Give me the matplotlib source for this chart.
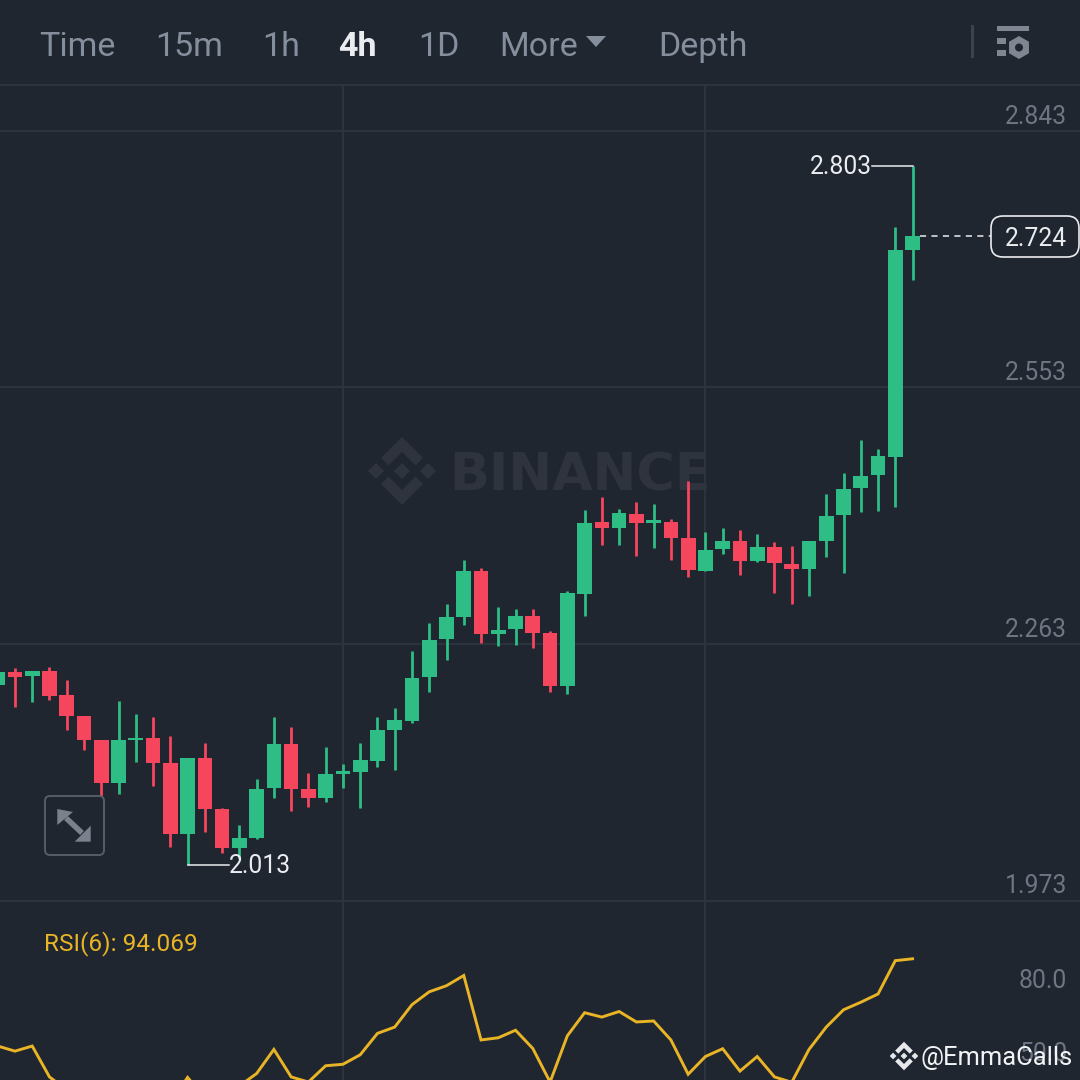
import numpy as np
import matplotlib
matplotlib.use('Agg')
import matplotlib.pyplot as plt
from matplotlib.patches import FancyBboxPatch, Polygon, Rectangle, Circle

# --- candle data ---
opens = [2.217, 2.231, 2.227, 2.232, 2.205, 2.182, 2.155, 2.106, 2.154, 2.157, 2.128, 2.048, 2.134, 2.077,
         2.032, 2.044, 2.100, 2.150, 2.099, 2.089, 2.116, 2.118, 2.131, 2.166, 2.176, 2.226, 2.269, 2.293,
         2.346, 2.274, 2.280, 2.295, 2.275, 2.215, 2.320, 2.401, 2.394, 2.410, 2.400, 2.401, 2.383, 2.346,
         2.370, 2.380, 2.357, 2.373, 2.354, 2.348, 2.379, 2.409, 2.439, 2.454, 2.474, 2.709]
highs = [2.233, 2.236, 2.233, 2.237, 2.222, 2.182, 2.155, 2.198, 2.184, 2.180, 2.159, 2.134, 2.151, 2.078,
         2.058, 2.110, 2.181, 2.169, 2.117, 2.146, 2.127, 2.151, 2.180, 2.191, 2.255, 2.287, 2.308, 2.358,
         2.349, 2.305, 2.303, 2.303, 2.278, 2.323, 2.414, 2.429, 2.416, 2.424, 2.421, 2.404, 2.447, 2.390,
         2.394, 2.392, 2.387, 2.378, 2.374, 2.380, 2.433, 2.456, 2.494, 2.484, 2.735, 2.803]
lows = [2.215, 2.192, 2.197, 2.200, 2.166, 2.143, 2.090, 2.093, 2.130, 2.102, 2.033, 2.013, 2.050, 2.027,
        2.021, 2.043, 2.089, 2.074, 2.079, 2.084, 2.100, 2.078, 2.124, 2.121, 2.174, 2.209, 2.245, 2.285,
        2.264, 2.261, 2.262, 2.258, 2.209, 2.206, 2.295, 2.375, 2.375, 2.363, 2.372, 2.358, 2.339, 2.345,
        2.365, 2.341, 2.356, 2.321, 2.308, 2.317, 2.361, 2.343, 2.412, 2.413, 2.418, 2.675]
closes = [2.231, 2.226, 2.232, 2.204, 2.182, 2.155, 2.106, 2.155, 2.157, 2.129, 2.048, 2.134, 2.077, 2.032,
          2.044, 2.099, 2.150, 2.099, 2.089, 2.116, 2.119, 2.132, 2.166, 2.177, 2.225, 2.268, 2.293, 2.345,
          2.274, 2.279, 2.295, 2.275, 2.215, 2.321, 2.400, 2.394, 2.411, 2.400, 2.403, 2.383, 2.347, 2.369,
          2.379, 2.357, 2.373, 2.355, 2.348, 2.379, 2.408, 2.438, 2.453, 2.475, 2.708, 2.724]
rsi = [58.2, 56.1, 58.2, 45.5, 40.1, 36.8, 34.8, 38.9, 38.9, 36.8, 34.8, 45.3, 36.8, 32.7, 41.8, 46.9, 56.8, 45.5,
       43.4, 50.1, 50.7, 54.6, 63.4, 66.0, 75.2, 80.5, 83.0, 87.2, 60.7, 61.6, 64.7, 57.2, 43.4, 62.4, 71.9, 70.1,
       72.4, 68.1, 68.5, 60.7, 46.6, 53.9, 57.1, 47.9, 53.9, 45.5, 43.3, 56.8, 66.0, 73.1, 76.2, 79.6, 93.3, 94.069]

price_ticks = [2.843, 2.553, 2.263, 1.973]
rsi_ticks = [80.0, 50.0]
time_gridlines = [20, 41]
menu_labels = ['Time', '15m', '1h', '4h', '1D', 'More', 'Depth']
menu_x = [39, 155, 262, 338, 418, 499, 658]

BG = '#1F2630'
GRID = '#2E343F'
GREEN = '#2EBD85'
RED = '#F6465D'
YELLOW = '#E9B425'
MUTED = '#6F7683'
MENU = '#848E9C'
WATERMARK = '#2E333E'
FONT = 'Roboto'


def binance_logo(ax, cx, cy, s, color, zorder=1):
    # diamond mark, s=1 is the big watermark size (pixels)
    top = [(0, -34), (21, -13), (13.5, -5.5), (0, -19), (-13.5, -5.5), (-21, -13)]
    for sign in (1, -1):
        ax.add_patch(Polygon([(cx + s * x, cy + sign * s * y) for x, y in top], fc=color, ec='none', zorder=zorder))
    for dx in (-26, 0, 26):
        r = 8
        ax.add_patch(Polygon([(cx + s * (dx - r), cy), (cx + s * dx, cy - s * r), (cx + s * (dx + r), cy),
                              (cx + s * dx, cy + s * r)], fc=color, ec='none', zorder=zorder))


def pixel_axes(fig, zorder):
    # overlay with image pixel coordinates, for the app chrome
    ax = fig.add_axes([0, 0, 1, 1], zorder=zorder)
    ax.set_xlim(0, 1080)
    ax.set_ylim(1080, 0)
    ax.axis('off')
    ax.patch.set_alpha(0)
    return ax


def main():
    fig = plt.figure(figsize=(10.8, 10.8), dpi=100, facecolor=BG)

    # --- 1. Layer under the chart: header and watermark ---
    back = pixel_axes(fig, 0)
    back.plot([0, 1080], [85, 85], color=GRID, lw=1.4)
    for label, x in zip(menu_labels, menu_x):
        active = label == '4h'
        back.text(x, 43.5, label, color='#EAECEF' if active else MENU, fontsize=24.5, family=FONT,
                  weight='bold' if active else 'normal', ha='left', va='center_baseline')
    back.add_patch(Polygon([(586, 36), (606, 36), (596, 47)], fc=MENU, ec='none'))
    back.add_patch(Rectangle((971, 25), 3, 33, fc='#3C424E', ec='none'))
    back.add_patch(Rectangle((997, 25.5), 32, 5.5, fc='#7F8591', ec='none'))
    back.add_patch(Rectangle((997, 38), 9, 5.5, fc='#7F8591', ec='none'))
    back.add_patch(Rectangle((997, 50), 9, 5.5, fc='#7F8591', ec='none'))
    angles = np.radians(np.arange(30, 390, 60))
    back.add_patch(Polygon(np.c_[1019 + 11.5 * np.cos(angles), 47.5 + 11.5 * np.sin(angles)], fc='#7F8591', ec='none'))
    back.add_patch(Circle((1019, 47.5), 4, fc=BG, ec='none'))

    binance_logo(back, 402, 471, 1.0, WATERMARK)
    back.text(449, 471, 'BINANCE', color=WATERMARK, fontsize=37.7, family='DejaVu Sans', weight='bold',
              ha='left', va='center_baseline')

    # --- 2. Price pane ---
    x = np.arange(len(closes))
    x_limits = (0.133, 62.7)
    ax = fig.add_axes([0, 179.5 / 1080, 1, 815.5 / 1080], zorder=1)
    ax.patch.set_alpha(0)
    ax.set_xlim(*x_limits)
    ax.set_ylim(1.973, 2.895)
    ax.axis('off')

    for tick in price_ticks:
        ax.axhline(tick, color=GRID, lw=1.4, zorder=1, clip_on=False)
        ax.text(1067 / 1080, tick + 0.0025, f'{tick:.3f}', color=MUTED, fontsize=17.8, family=FONT,
                transform=ax.get_yaxis_transform(), ha='right', va='bottom')
    for pos in time_gridlines:
        ax.axvline(pos, color=GRID, lw=1.4, zorder=1)

    opens_a, closes_a = np.array(opens), np.array(closes)
    colors = [GREEN if c >= o else RED for o, c in zip(opens, closes)]
    ax.vlines(x, lows, highs, colors=colors, lw=2.0, capstyle='butt', zorder=3)
    ax.bar(x, np.abs(closes_a - opens_a), bottom=np.minimum(opens_a, closes_a), width=0.85, color=colors, zorder=3)

    # high / low markers
    hi = int(np.argmax(highs))
    lo = int(np.argmin(lows))
    ax.plot([hi - 2.37, hi], [highs[hi], highs[hi]], color='#EAECEF', lw=1.1, zorder=4)
    ax.text(hi - 2.35, highs[hi] - 0.001, f'{highs[hi]:.3f}', color='#EAECEF', fontsize=17.8, family=FONT,
            ha='right', va='center')
    ax.plot([lo, lo + 2.4], [lows[lo], lows[lo]], color='#EAECEF', lw=1.1, zorder=4)
    ax.text(lo + 2.4, lows[lo] - 0.001, f'{lows[lo]:.3f}', color='#EAECEF', fontsize=17.8, family=FONT,
            ha='left', va='center')

    # last price dashed line
    ax.plot([x[-1] + 0.42, 57.55], [closes[-1], closes[-1]], color='#EAECEF', lw=1.1, ls=(0, (4, 3.5)), zorder=4)

    # --- 3. RSI pane ---
    ax2 = fig.add_axes([0, 0, 1, 180 / 1080], zorder=1)
    ax2.patch.set_alpha(0)
    ax2.set_xlim(*x_limits)
    ax2.set_ylim(44.24, 118.23)
    ax2.axis('off')
    for pos in time_gridlines:
        ax2.axvline(pos, color=GRID, lw=1.4, zorder=1)
    ax2.plot(x, rsi, color=YELLOW, lw=2.1, zorder=3, solid_joinstyle='miter')
    for tick in rsi_ticks:
        ax2.text(1067 / 1080, tick + 0.0, f'{tick:.1f}', color=MUTED, fontsize=17.8, family=FONT,
                 transform=ax2.get_yaxis_transform(), ha='right', va='bottom')
    ax2.text(44 / 1080, 100.2, f'RSI(6): {rsi[-1]:.3f}', color=YELLOW, fontsize=17.6, family=FONT,
             transform=ax2.get_yaxis_transform(), ha='left', va='center')

    # --- 4. Layer over the chart: price tag, expand button, credit ---
    front = pixel_axes(fig, 2)
    front.add_patch(FancyBboxPatch((999, 224), 72, 25, boxstyle='round,pad=8,rounding_size=12',
                                   fc=BG, ec='#EAECEF', lw=1.2))
    front.text(1067, 239, f'{closes[-1]:.3f}', color='#EAECEF', fontsize=17.8, family=FONT,
               ha='right', va='center')
    front.add_patch(FancyBboxPatch((50, 801), 49, 49, boxstyle='round,pad=5,rounding_size=5',
                                   fc=BG, ec='#565C68', lw=1.4))
    arrow = '#7A808C'
    front.add_patch(Polygon([(57.3, 809), (57.3, 825), (73, 812)], fc=arrow, ec='none'))
    front.add_patch(Polygon([(90.7, 841.7), (90.7, 825.7), (74.7, 841.7)], fc=arrow, ec='none'))
    front.plot([66, 82], [818, 833], color=arrow, lw=4, solid_capstyle='butt')

    binance_logo(front, 904, 1056, 0.42, '#E6E8EA', zorder=5)
    front.text(921, 1056, '@EmmaCalls', color='#F2F3F5', fontsize=18.4, family=FONT,
               ha='left', va='center_baseline', zorder=5)

    fig.savefig('out.png', dpi=100, facecolor=BG)


if __name__ == '__main__':
    main()
